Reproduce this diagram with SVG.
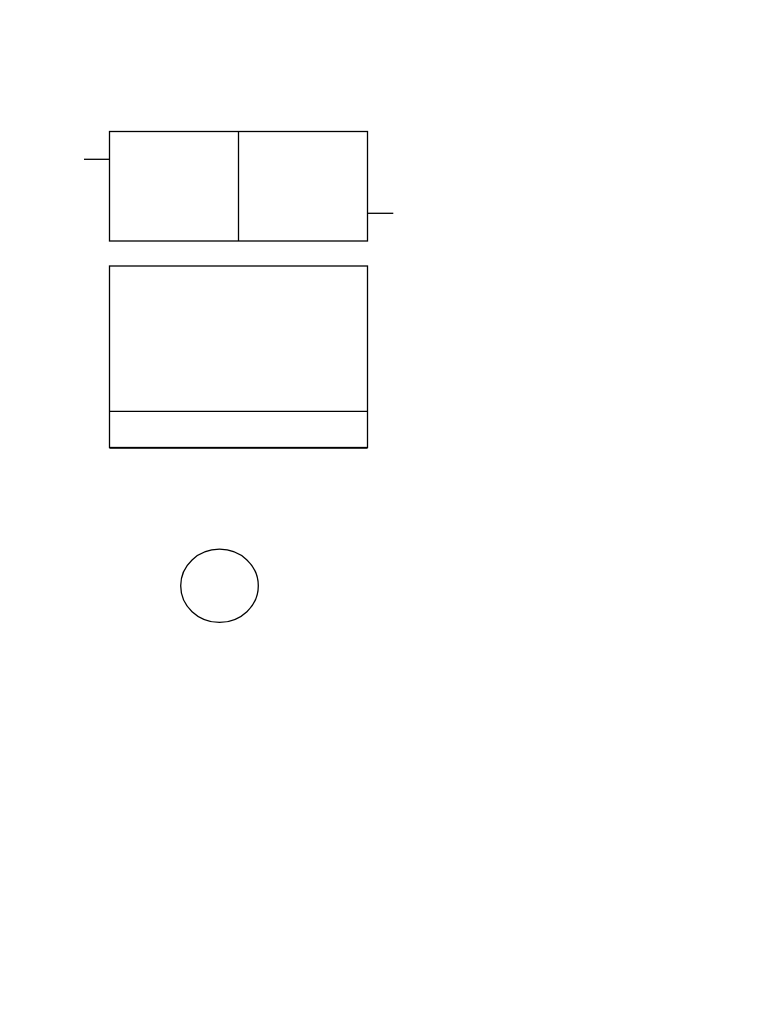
<svg xmlns="http://www.w3.org/2000/svg" width="768" height="1024" viewBox="0 0 768 1024">
<style>
.s{fill:none;stroke:#000;stroke-width:1.3}
</style>
<rect width="768" height="1024" fill="#fff"/>
<g id="node-top">
<rect class="s" x="109.5" y="131.5" width="258" height="109.5"/>
<line class="s" x1="238.5" y1="131.5" x2="238.5" y2="241"/>
</g>
<g id="node-middle">
<rect class="s" x="109.5" y="266" width="258" height="181.5"/>
<line class="s" x1="109.5" y1="411.3" x2="367.5" y2="411.3"/>
<line x1="109.5" y1="448" x2="367.5" y2="448" stroke="#000" stroke-width="1.6"/>
</g>
<g id="node-circle">
<ellipse class="s" cx="219.5" cy="585.8" rx="38.8" ry="36.6"/>
</g>
<g id="connectors">
<line class="s" x1="84" y1="159.3" x2="109.5" y2="159.3"/>
<line class="s" x1="367.5" y1="213.3" x2="393.3" y2="213.3"/>
</g>
</svg>
